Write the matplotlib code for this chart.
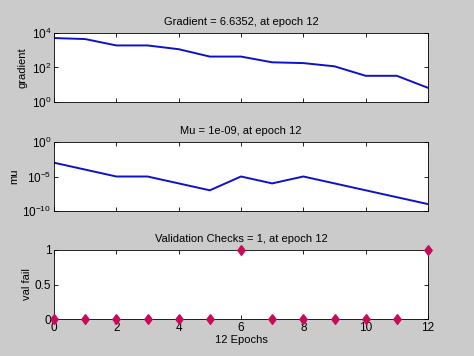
import matplotlib.pyplot as plt
import numpy as np

plt.rcParams['font.family'] = ['Liberation Sans', 'DejaVu Sans']
plt.rcParams['mathtext.default'] = 'regular'
plt.rcParams['font.size'] = 8

# training state data
epochs = np.arange(0, 13)
gradient = [5100, 4450, 1900, 1900, 1150, 430, 430, 200, 180, 117, 33, 33, 6.6352]
mu = [1e-3, 1e-4, 1e-5, 1e-5, 1e-6, 1e-7, 1e-5, 1e-6, 1e-5, 1e-6, 1e-7, 1e-8, 1e-9]
val_fail = [0, 0, 0, 0, 0, 0, 1, 0, 0, 0, 0, 0, 1]

bg = '#cbcbcb'
line_col = '#1010c8'
mark_col = '#c80a5a'
# diamond a bit taller than wide, like matlab's
diamond = [(0, 1), (0.75, 0), (0, -1), (-0.75, 0), (0, 1)]

fig = plt.figure(figsize=(4.74, 3.56), dpi=100, facecolor=bg)
W, H = 474, 356

def mkax(top, bottom):
    ax = fig.add_axes([54 / W, 1 - bottom / H, (428 - 54) / W, (bottom - top) / H])
    ax.set_facecolor('white')
    ax.tick_params(direction='in', top=True, right=True, length=3, width=0.6,
                   labelsize=8.5, pad=2)
    ax.tick_params(which='minor', length=0)
    for s in ax.spines.values():
        s.set_linewidth(0.6)
    ax.set_xlim(0, 12)
    ax.set_xticks([0, 2, 4, 6, 8, 10, 12])
    return ax

ax1 = mkax(33, 102)
ax1.semilogy(epochs, gradient, color=line_col, lw=1.4)
ax1.set_ylim(1, 1e4)
ax1.set_yticks([1, 1e2, 1e4])
ax1.set_yticklabels(['$10^0$', '$10^2$', '$10^4$'])
ax1.set_xticklabels([])
ax1.set_ylabel('gradient', labelpad=3)
ax1.set_title('Gradient = 6.6352, at epoch 12', fontsize=8, pad=6)

ax2 = mkax(142, 211)
ax2.semilogy(epochs, mu, color=line_col, lw=1.4)
ax2.set_ylim(1e-10, 1)
ax2.set_yticks([1e-10, 1e-5, 1])
ax2.set_yticklabels(['$10^{-10}$', '$10^{-5}$', '$10^0$'])
ax2.set_xticklabels([])
ax2.set_ylabel('mu', labelpad=2)
ax2.set_title('Mu = 1e-09, at epoch 12', fontsize=8, pad=6)

ax3 = mkax(250, 319)
ax3.plot(epochs, val_fail, linestyle='none', marker=diamond, markersize=7,
         color=mark_col, clip_on=False, zorder=5)
ax3.set_ylim(0, 1)
ax3.set_yticks([0, 0.5, 1])
ax3.set_yticklabels(['0', '0.5', '1'])
ax3.set_ylabel('val fail', labelpad=2)
ax3.set_xlabel('12 Epochs', labelpad=1)
ax3.set_title('Validation Checks = 1, at epoch 12', fontsize=8, pad=6)

fig.savefig('out.png', dpi=100, facecolor=bg)
